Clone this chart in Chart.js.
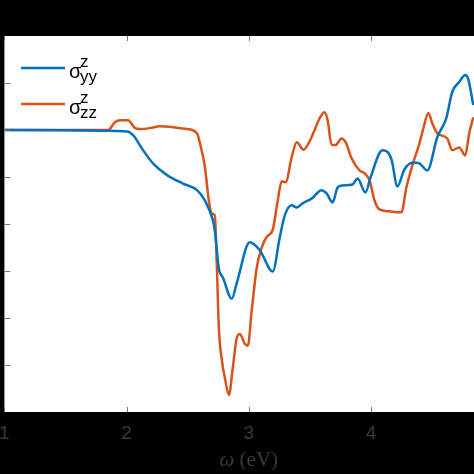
<!DOCTYPE html>
<html>
<head>
<meta charset="utf-8">
<script src="https://cdn.jsdelivr.net/npm/chart.js@4.4.1/dist/chart.umd.min.js"></script>
<style>
  html, body { margin: 0; padding: 0; background: #000; overflow: hidden; }
  #wrap { width: 474px; height: 474px; }
</style>
</head>
<body>
<div id="wrap"><canvas id="chart" width="474" height="474"></canvas></div>
<script>
// sigma_yy^z
const yyX = [1.0, 2.004, 2.053, 2.135, 2.216, 2.331, 2.461, 2.576, 2.641, 2.706,
  2.722, 2.755, 2.788, 2.861, 2.902, 3.008, 3.090, 3.196, 3.253, 3.294,
  3.351, 3.392, 3.441, 3.514, 3.596, 3.637, 3.686, 3.727, 3.767, 3.849,
  3.890, 3.955, 3.996, 4.094, 4.167, 4.216, 4.273, 4.347, 4.396, 4.461,
  4.543, 4.616, 4.665, 4.722, 4.771, 4.796, 4.837];
const yyY = [6.0, 5.97, 5.89, 5.57, 5.29, 5.04, 4.86, 4.72, 4.50, 4.08,
  3.86, 3.05, 2.86, 2.41, 2.75, 3.61, 3.44, 2.99, 3.71, 4.18,
  4.40, 4.35, 4.44, 4.54, 4.72, 4.65, 4.46, 4.78, 4.82, 4.84,
  4.97, 4.67, 4.99, 5.57, 5.38, 4.80, 5.16, 5.31, 5.29, 5.14,
  5.85, 6.25, 6.81, 7.02, 7.17, 7.08, 6.53];

// sigma_zz^z
const zzX = [1.0, 1.849, 1.906, 1.947, 2.012, 2.069, 2.110, 2.192, 2.273, 2.380,
  2.494, 2.576, 2.600, 2.641, 2.673, 2.698, 2.722, 2.739, 2.755, 2.780,
  2.804, 2.837, 2.869, 2.902, 2.927, 2.967, 2.992, 3.024, 3.065, 3.106,
  3.147, 3.196, 3.237, 3.269, 3.302, 3.351, 3.392, 3.449, 3.490, 3.531,
  3.580, 3.620, 3.645, 3.678, 3.710, 3.759, 3.792, 3.841, 3.906, 3.947,
  3.988, 4.029, 4.069, 4.151, 4.216, 4.249, 4.290, 4.339, 4.396, 4.429,
  4.469, 4.502, 4.543, 4.624, 4.665, 4.722, 4.771, 4.804, 4.837];
const zzY = [6.0, 6.0, 6.17, 6.21, 6.21, 6.04, 6.02, 6.04, 6.08, 6.06,
  6.02, 5.93, 5.72, 5.21, 4.50, 4.22, 4.18, 3.07, 1.79, 1.09,
  0.73, 0.36, 0.94, 1.58, 1.66, 1.45, 1.41, 2.16, 3.07, 3.50,
  3.73, 3.88, 4.50, 4.91, 4.89, 5.42, 5.74, 5.58, 5.72, 5.95,
  6.25, 6.38, 6.21, 5.68, 5.68, 5.82, 5.74, 5.40, 5.14, 5.08,
  4.93, 4.50, 4.31, 4.27, 4.25, 4.25, 4.78, 5.25, 5.71, 6.04,
  6.36, 6.14, 5.93, 5.82, 5.57, 5.63, 5.46, 5.93, 6.27];

const xTicks = [1, 2, 3, 4];
const yTicks = [1, 2, 3, 4, 5, 6, 7];
const legendSubs = ['yy', 'zz'];
const xTitleVar = 'ω';
const xTitleUnit = ' (eV)';

const BLUE = '#0072BD';
const RED = '#D95319';

const toPoints = (xs, ys) => xs.map((x, i) => ({ x: x, y: ys[i] }));

// white axes box behind the lines
const axesBg = {
  id: 'axesBg',
  beforeDraw(chart) {
    const { ctx, chartArea: a } = chart;
    ctx.save();
    ctx.fillStyle = '#fff';
    ctx.fillRect(a.left, a.top, a.right - a.left, a.bottom - a.top);
    ctx.restore();
  }
};

// matlab style ticks pointing inward, plus legend and x label
const decorations = {
  id: 'decorations',
  afterDraw(chart) {
    const { ctx, chartArea: a } = chart;
    const sx = chart.scales.x, sy = chart.scales.y;
    ctx.save();
    ctx.strokeStyle = '#777';
    ctx.lineWidth = 1;
    ctx.beginPath();
    for (const v of xTicks) {
      const px = Math.round(sx.getPixelForValue(v)) + 0.5;
      ctx.moveTo(px, a.bottom); ctx.lineTo(px, a.bottom - 5);
      ctx.moveTo(px, a.top); ctx.lineTo(px, a.top + 5);
    }
    for (const v of yTicks) {
      const py = Math.round(sy.getPixelForValue(v)) + 0.5;
      ctx.moveTo(a.left, py); ctx.lineTo(a.left + 6, py);
    }
    ctx.stroke();

    // legend
    chart.data.datasets.forEach((ds, i) => {
      const y = 68 + i * 36;
      ctx.strokeStyle = ds.borderColor;
      ctx.lineWidth = 2.5;
      ctx.beginPath();
      ctx.moveTo(21, y); ctx.lineTo(65, y);
      ctx.stroke();
      ctx.fillStyle = '#000';
      ctx.textBaseline = 'alphabetic';
      ctx.textAlign = 'left';
      ctx.font = '20px "Liberation Sans"';
      ctx.fillText('σ', 69, y + 10);
      ctx.font = '17px "Liberation Sans"';
      ctx.fillText('z', 80, y - 1);
      ctx.fillText(legendSubs[i], 80, y + 14);
    });

    // x label, centred on the full 1..5 axis
    const cx = sx.getPixelForValue(3);
    ctx.fillStyle = '#3a3a3a';
    ctx.font = 'italic 21px "Liberation Serif"';
    const w1 = ctx.measureText(xTitleVar).width;
    ctx.font = '21px "Liberation Serif"';
    const w2 = ctx.measureText(xTitleUnit).width;
    const x0 = cx - (w1 + w2) / 2;
    ctx.font = 'italic 21px "Liberation Serif"';
    ctx.fillText(xTitleVar, x0, 466);
    ctx.font = '21px "Liberation Serif"';
    ctx.fillText(xTitleUnit, x0 + w1, 466);
    ctx.restore();
  }
};

new Chart(document.getElementById('chart'), {
  type: 'line',
  data: {
    datasets: [
      { label: 'σyy', data: toPoints(yyX, yyY), borderColor: BLUE, borderWidth: 2.5,
        pointRadius: 0, cubicInterpolationMode: 'monotone', fill: false },
      { label: 'σzz', data: toPoints(zzX, zzY), borderColor: RED, borderWidth: 2.5,
        pointRadius: 0, cubicInterpolationMode: 'monotone', fill: false }
    ]
  },
  options: {
    responsive: false,
    animation: false,
    layout: { padding: { top: 36, left: 0, right: 0, bottom: 0 } },
    plugins: { legend: { display: false }, tooltip: { enabled: false } },
    scales: {
      x: {
        type: 'linear', min: 1, max: 4.843,
        afterBuildTicks: s => { s.ticks = xTicks.map(v => ({ value: v })); },
        afterFit: s => { s.height = 62; s.paddingLeft = 0; s.paddingRight = 0; },
        grid: { display: false, drawTicks: false },
        border: { display: false },
        ticks: { color: '#3a3a3a', padding: 10, maxRotation: 0, autoSkip: false,
                 font: { family: 'Liberation Sans', size: 19 } }
      },
      y: {
        type: 'linear', min: 0, max: 8,
        afterBuildTicks: s => { s.ticks = yTicks.map(v => ({ value: v })); },
        afterFit: s => { s.width = 4.4; s.paddingTop = 0; s.paddingBottom = 0; },
        grid: { display: false, drawTicks: false },
        border: { display: false },
        ticks: { display: false }
      }
    }
  },
  plugins: [axesBg, decorations]
});
</script>
</body>
</html>
